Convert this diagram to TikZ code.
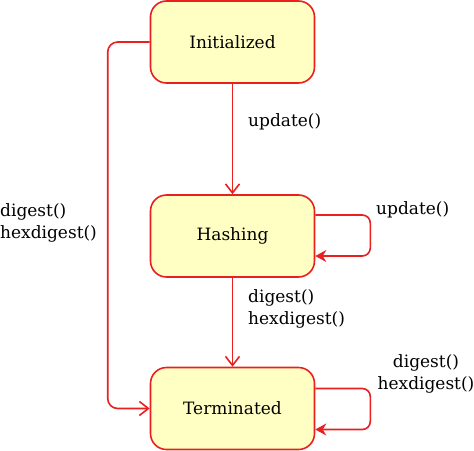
\documentclass[tikz,border=0pt]{standalone}
\usepackage{fontspec}
\setmainfont{DejaVu Serif}
\usetikzlibrary{arrows.meta,positioning,calc}
\definecolor{stred}{RGB}{232,32,32}
\definecolor{stfill}{RGB}{255,255,196}

\begin{document}
\begin{tikzpicture}[
    x=1pt,y=-1pt,
    state/.style={rectangle,rounded corners=16pt,draw=stred,fill=stfill,line width=1.6pt,
      minimum width=164pt,minimum height=82pt,font=\fontsize{17}{22}\selectfont},
    trans/.style={draw=stred,line width=1.6pt,-{Straight Barb[length=9pt,width=14pt]}},
    selfloop/.style={draw=stred,line width=1.6pt,rounded corners=8pt,-{Stealth[length=11pt,width=12pt]}},
    lbl/.style={inner sep=0,font=\fontsize{17}{22}\selectfont},
  ]
    \useasboundingbox (0,0) rectangle (474,450);
    \node[state] (init) at (232.5,42) {Initialized};
    \node[state] (hash) at (232.5,236) {Hashing};
    \node[state] (term) at (232.5,408.5) {Terminated};
    % transitions
    \draw[trans] (init) -- (hash);
    \draw[trans] (hash) -- (term);
    \draw[trans,rounded corners=10pt] (init.west) -- ++(-42,0) |- (term.west);
    \draw[selfloop] ([yshift=21pt]hash.east) -- ++(55,0) |- ([yshift=-20pt]hash.east);
    \draw[selfloop] ([yshift=20pt]term.east) -- ++(55,0) |- ([yshift=-21pt]term.east);
    % labels
    \node[lbl,anchor=west] (lupdate) at (248,122) {update()};
    \node[lbl,anchor=west,align=left] (ldigest) at (248,309) {digest()\\hexdigest()};
    \node[lbl,anchor=west,align=left] (lleft) at (0,223) {digest()\\hexdigest()};
    \node[lbl,anchor=west] (lloop) at (376,210) {update()};
    \node[lbl,align=center] (lterm) at (426,374) {digest()\\hexdigest()};
  \end{tikzpicture}
\end{document}
